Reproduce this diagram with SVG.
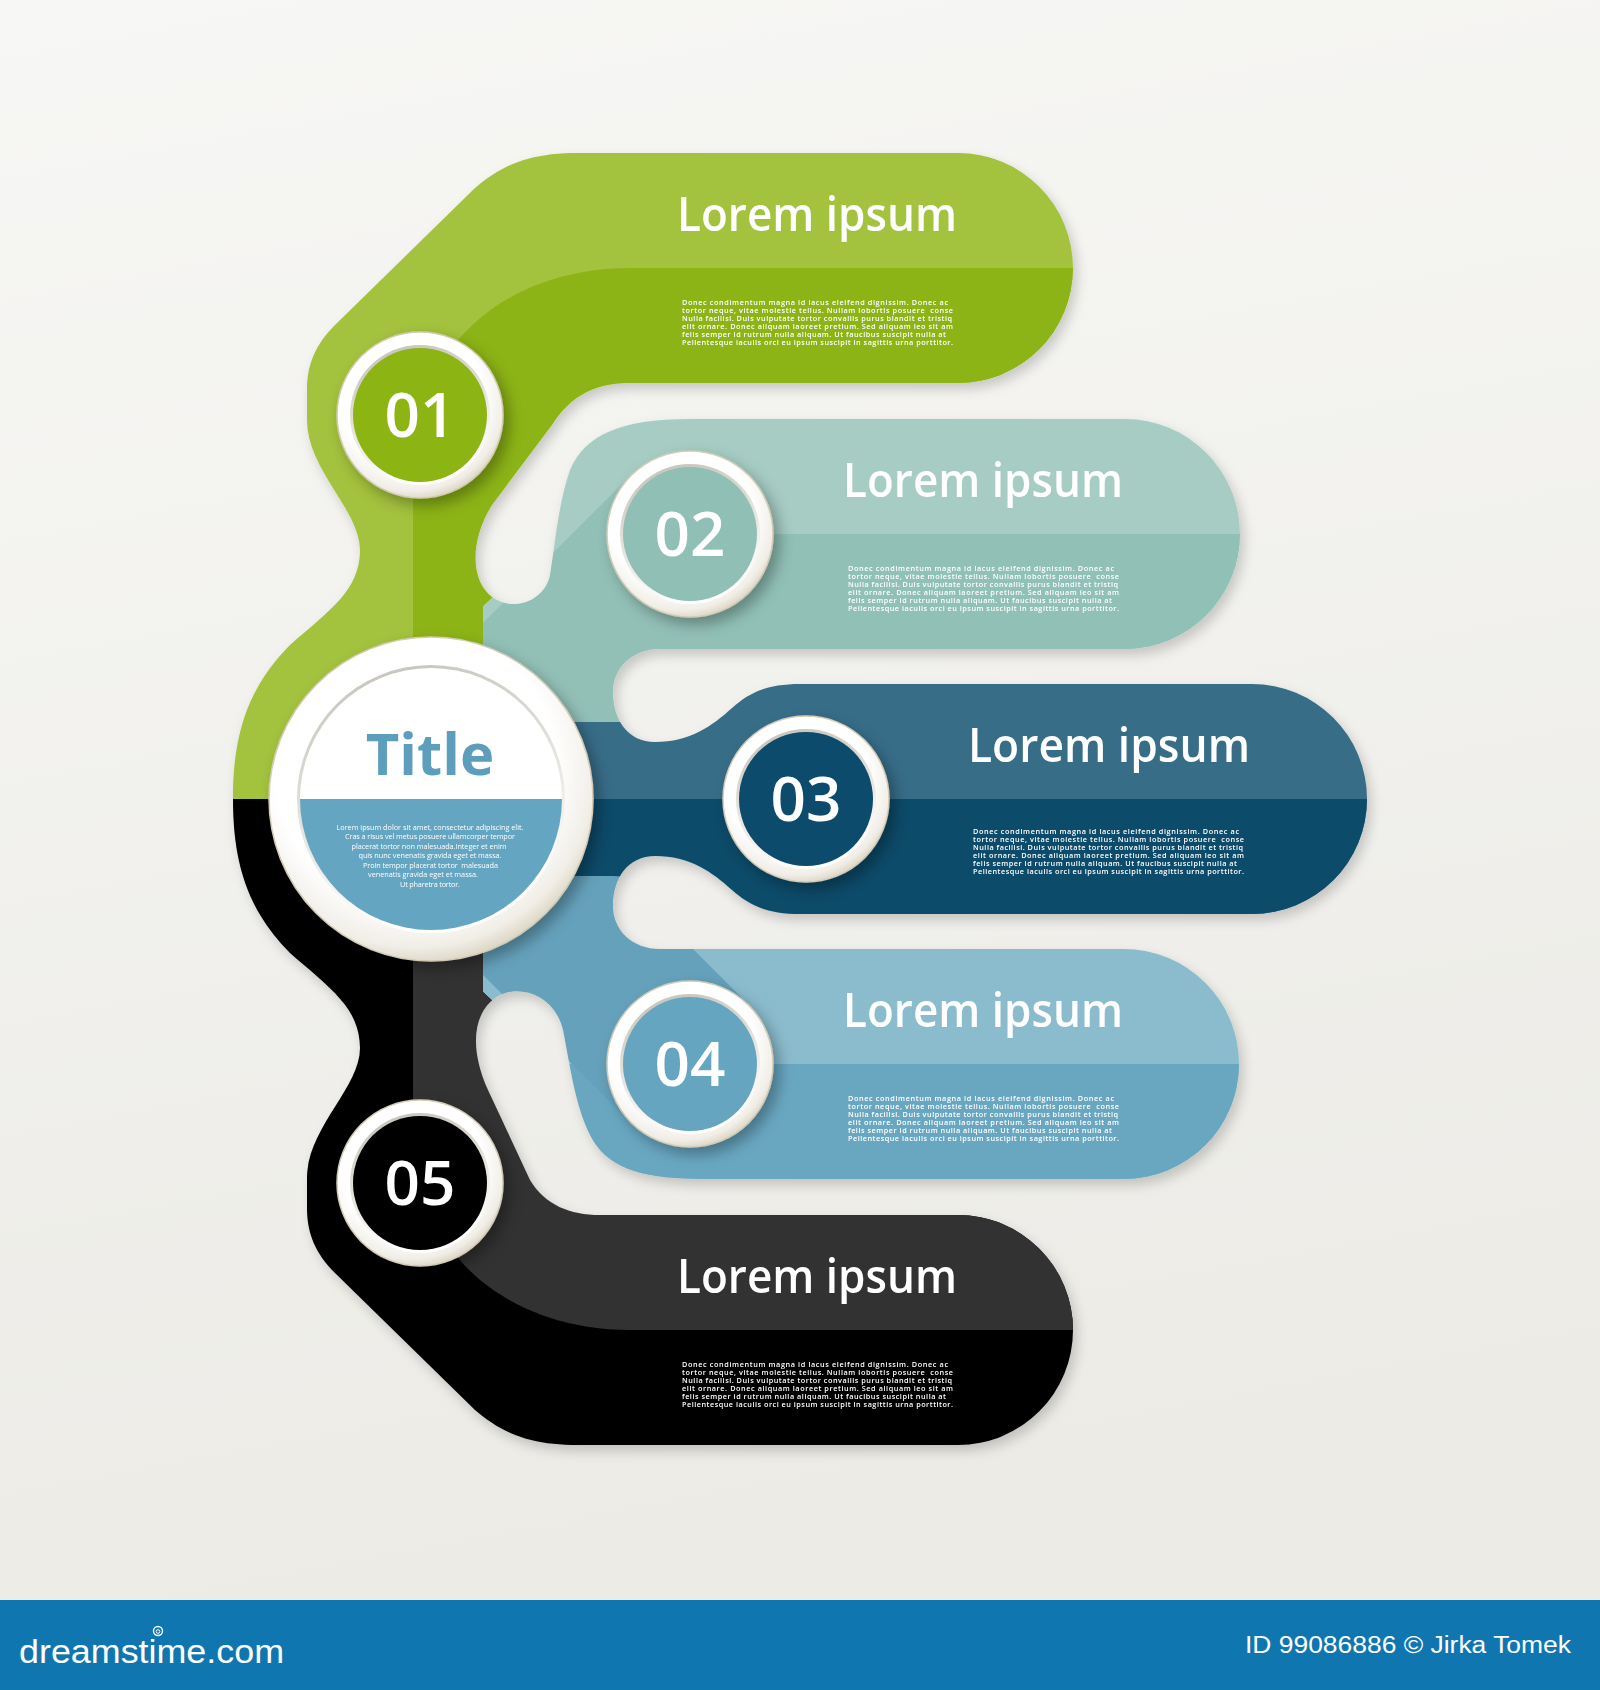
<svg xmlns="http://www.w3.org/2000/svg" xmlns:xlink="http://www.w3.org/1999/xlink" width="1600" height="1690" viewBox="0 0 1600 1690">
<defs>
<style>
.h{font-family:"Open Sans","Liberation Sans",sans-serif;font-weight:600;font-size:47px;fill:#ffffff}
.b{font-family:"Open Sans","Liberation Sans",sans-serif;font-weight:600;font-size:7.3px;fill:#ffffff;white-space:pre}
.n{font-family:"Open Sans","Liberation Sans",sans-serif;font-weight:600;font-size:62px;fill:#ffffff;text-anchor:middle}
.tb{font-family:"Open Sans","Liberation Sans",sans-serif;font-weight:400;font-size:7.3px;fill:#ffffff;text-anchor:middle;white-space:pre}
.ring{fill:url(#ring);stroke:#d3cbb6;stroke-width:1.5}
.rim{fill:url(#rim)}
</style>
<linearGradient id="bg" gradientUnits="userSpaceOnUse" x1="0" y1="0" x2="300" y2="1600">
<stop offset="0" stop-color="#f7f7f5"/>
<stop offset="1" stop-color="#ecebe6"/>
</linearGradient>
<radialGradient id="ring" cx="0.45" cy="0.4" r="0.62">
<stop offset="0.7" stop-color="#ffffff"/>
<stop offset="0.9" stop-color="#f1eee7"/>
<stop offset="1" stop-color="#d9d2bf"/>
</radialGradient>
<linearGradient id="rim" x1="0" y1="0" x2="0.3" y2="1">
<stop offset="0" stop-color="#c2bfb7"/>
<stop offset="0.5" stop-color="#e2dfd8"/>
<stop offset="1" stop-color="#ffffff"/>
</linearGradient>
<filter id="bandSh" filterUnits="userSpaceOnUse" x="0" y="0" width="1600" height="1690">
<feDropShadow dx="4" dy="6" stdDeviation="6" flood-color="#000000" flood-opacity="0.18"/>
</filter>
<filter id="circSh" x="-30%" y="-30%" width="170%" height="170%">
<feDropShadow dx="6" dy="7" stdDeviation="7" flood-color="#000000" flood-opacity="0.3"/>
</filter>
<path id="shT" d="M 1125 419 A 115 115 0 0 1 1125 649 H 720 V 735 H 470 V 419 Z"/>
<path id="shLB" d="M 470 863 H 720 V 949 H 1124 A 115 115 0 0 1 1124 1179 H 470 Z"/>
<path id="shN" d="M 470 722 H 613 C 680 722 720 684 790 684 H 1252 A 115 115 0 0 1 1252 914 H 790 C 720 914 680 876 613 876 H 470 Z"/>
<path id="shG" d="M 958 153 A 115 115 0 0 1 958 383 H 640 L 555 450 L 520 520 L 500 590 L 483 606 V 799 H 233 C 233 740 245 690 290 645 C 330 610 360 590 360 550 C 360 510 307 470 307 420 L 307 390 C 307 365 315 345 335 325 L 475 188 C 505 162 535 153 578 153 Z"/>
<path id="shB" d="M 958 1445 A 115 115 0 0 0 958 1215 H 640 L 555 1148 L 520 1078 L 500 1008 L 483 992 V 799 H 233 C 233 858 245 908 290 953 C 330 988 360 1008 360 1048 C 360 1088 307 1128 307 1178 L 307 1208 C 307 1233 315 1253 335 1273 L 475 1410 C 505 1436 535 1445 578 1445 Z"/>
<clipPath id="cT"><use xlink:href="#shT"/></clipPath>
<clipPath id="cLB"><use xlink:href="#shLB"/></clipPath>
<clipPath id="cN"><use xlink:href="#shN"/></clipPath>
<clipPath id="cG"><use xlink:href="#shG"/></clipPath>
<clipPath id="cB"><use xlink:href="#shB"/></clipPath>
<clipPath id="cTitle"><circle cx="431" cy="799" r="131"/></clipPath>
<mask id="gaps" maskUnits="userSpaceOnUse" x="0" y="0" width="1600" height="1690">
<rect x="0" y="0" width="1600" height="1690" fill="#ffffff"/>
<path fill="#000000" d="M 1100 383 H 630 C 590 383 568 400 552 425 L 492 505 C 470 540 470 580 492 597 C 515 613 545 600 550 575 C 555 545 558 505 570 470 C 585 435 620 419 690 419 H 1100 Z"/>
<path fill="#000000" d="M 1400 649 H 660 C 632 649 613 668 613 692 C 613 720 628 742 655 742 C 690 742 712 726 732 708 C 750 692 768 684 800 684 H 1400 Z"/>
<path fill="#000000" d="M 1400 949 H 660 C 632 949 613 930 613 906 C 613 878 628 856 655 856 C 690 856 712 872 732 890 C 750 906 768 914 800 914 H 1400 Z"/>
<path fill="#000000" d="M 1100 1215 H 600 C 570 1215 545 1205 530 1180 L 488 1090 C 470 1050 472 1015 495 998 C 518 982 555 995 563 1030 C 570 1065 575 1105 590 1135 C 605 1165 635 1179 700 1179 H 1100 Z"/>
</mask>
</defs>

<rect x="0" y="0" width="1600" height="1690" fill="url(#bg)"/>

<g id="connectors" filter="url(#bandSh)">
<g mask="url(#gaps)">
<g id="ribbon-02">
<use xlink:href="#shT" fill="#a6ccc4"/>
<g clip-path="url(#cT)">
<rect x="660" y="534" width="700" height="115" fill="#90c0b6"/>
<polygon points="631,475 749,593 466,876 348,758" fill="#92bfb6"/>
</g>
</g>
<g id="ribbon-04">
<use xlink:href="#shLB" fill="#8bbccd"/>
<g clip-path="url(#cLB)">
<rect x="540" y="1064" width="820" height="115" fill="#69a7c1"/>
<polygon points="631,1123 749,1005 466,722 348,840" fill="#65a1bb"/>
</g>
</g>
<g id="ribbon-03">
<use xlink:href="#shN" fill="#386d88"/>
<g clip-path="url(#cN)">
<rect x="400" y="799" width="1100" height="130" fill="#0c4b6b"/>
</g>
</g>
<g id="ribbon-01">
<use xlink:href="#shG" fill="#a3c23c"/>
<g clip-path="url(#cG)">
<path d="M 1200 268 H 630 C 530 268 450 320 425 400 C 415 430 413 460 413 500 V 800 H 1200 Z" fill="#8cb412"/>
</g>
</g>
<g id="ribbon-05">
<use xlink:href="#shB" fill="#050505"/>
<g clip-path="url(#cB)">
<path d="M 1200 1330 H 630 C 530 1330 450 1278 425 1198 C 415 1168 413 1138 413 1098 V 798 H 1200 Z" fill="#333333"/>
</g>
</g>
</g>
</g>

<g id="node-title">
<circle class="ring" cx="431" cy="799" r="162" filter="url(#circSh)"/>
<circle class="rim" cx="431" cy="799" r="134"/>
<g clip-path="url(#cTitle)">
<rect x="290" y="660" width="282" height="139" fill="#ffffff"/>
<rect x="290" y="799" width="282" height="140" fill="#64a5c2"/>
</g>
<text x="430" y="775" text-anchor="middle" font-family="'Open Sans','Liberation Sans',sans-serif" font-weight="700" font-size="58" fill="#5d9ebd">Title</text>
<text class="tb" x="430" y="829.5" textLength="187">Lorem ipsum dolor sit amet, consectetur adipiscing elit.</text>
<text class="tb" x="430" y="839" textLength="170">Cras a risus vel metus posuere ullamcorper tempor</text>
<text class="tb" x="429" y="848.5" textLength="155">placerat tortor non malesuada.Integer et enim</text>
<text class="tb" x="430" y="858" textLength="143">quis nunc venenatis gravida eget et massa.</text>
<text class="tb" x="430.5" y="867.5" textLength="135">Proin tempor placerat tortor  malesuada</text>
<text class="tb" x="423" y="877" textLength="110">venenatis gravida eget et massa.</text>
<text class="tb" x="430" y="886.5" textLength="60">Ut pharetra tortor.</text>
</g>

<g id="node-01">
<circle class="ring" cx="420" cy="415" r="83" filter="url(#circSh)"/>
<circle class="rim" cx="420" cy="415" r="70"/>
<circle cx="420" cy="415" r="67" fill="#8cb412"/>
<text class="n" x="420" y="437">01</text>
<text class="h" x="677" y="231" textLength="280" lengthAdjust="spacingAndGlyphs">Lorem ipsum</text>
<g transform="translate(682,305)">
<text class="b" x="0" y="0" textLength="266">Donec condimentum magna id lacus eleifend dignissim. Donec ac</text>
<text class="b" x="0" y="7.9" textLength="271">tortor neque, vitae molestie tellus. Nullam lobortis posuere  conse</text>
<text class="b" x="0" y="15.8" textLength="270">Nulla facilisi. Duis vulputate tortor convallis purus blandit et tristiq</text>
<text class="b" x="0" y="23.7" textLength="271">elit ornare. Donec aliquam laoreet pretium. Sed aliquam leo sit am</text>
<text class="b" x="0" y="31.6" textLength="264">felis semper id rutrum nulla aliquam. Ut faucibus suscipit nulla at</text>
<text class="b" x="0" y="39.5" textLength="271">Pellentesque iaculis orci eu ipsum suscipit in sagittis urna porttitor.</text>
</g>
</g>

<g id="node-02">
<circle class="ring" cx="690" cy="534" r="83" filter="url(#circSh)"/>
<circle class="rim" cx="690" cy="534" r="70"/>
<circle cx="690" cy="534" r="67" fill="#8fbfb5"/>
<text class="n" x="690" y="556">02</text>
<text class="h" x="843" y="497" textLength="280" lengthAdjust="spacingAndGlyphs">Lorem ipsum</text>
<g transform="translate(848,571)">
<text class="b" x="0" y="0" textLength="266">Donec condimentum magna id lacus eleifend dignissim. Donec ac</text>
<text class="b" x="0" y="7.9" textLength="271">tortor neque, vitae molestie tellus. Nullam lobortis posuere  conse</text>
<text class="b" x="0" y="15.8" textLength="270">Nulla facilisi. Duis vulputate tortor convallis purus blandit et tristiq</text>
<text class="b" x="0" y="23.7" textLength="271">elit ornare. Donec aliquam laoreet pretium. Sed aliquam leo sit am</text>
<text class="b" x="0" y="31.6" textLength="264">felis semper id rutrum nulla aliquam. Ut faucibus suscipit nulla at</text>
<text class="b" x="0" y="39.5" textLength="271">Pellentesque iaculis orci eu ipsum suscipit in sagittis urna porttitor.</text>
</g>
</g>

<g id="node-03">
<circle class="ring" cx="806" cy="799" r="83" filter="url(#circSh)"/>
<circle class="rim" cx="806" cy="799" r="70"/>
<circle cx="806" cy="799" r="67" fill="#0c4b6b"/>
<text class="n" x="806" y="821">03</text>
<text class="h" x="968" y="762" textLength="282" lengthAdjust="spacingAndGlyphs">Lorem ipsum</text>
<g transform="translate(973,834)">
<text class="b" x="0" y="0" textLength="266">Donec condimentum magna id lacus eleifend dignissim. Donec ac</text>
<text class="b" x="0" y="7.9" textLength="271">tortor neque, vitae molestie tellus. Nullam lobortis posuere  conse</text>
<text class="b" x="0" y="15.8" textLength="270">Nulla facilisi. Duis vulputate tortor convallis purus blandit et tristiq</text>
<text class="b" x="0" y="23.7" textLength="271">elit ornare. Donec aliquam laoreet pretium. Sed aliquam leo sit am</text>
<text class="b" x="0" y="31.6" textLength="264">felis semper id rutrum nulla aliquam. Ut faucibus suscipit nulla at</text>
<text class="b" x="0" y="39.5" textLength="271">Pellentesque iaculis orci eu ipsum suscipit in sagittis urna porttitor.</text>
</g>
</g>

<g id="node-04">
<circle class="ring" cx="690" cy="1064" r="83" filter="url(#circSh)"/>
<circle class="rim" cx="690" cy="1064" r="70"/>
<circle cx="690" cy="1064" r="67" fill="#66a5bf"/>
<text class="n" x="690" y="1086">04</text>
<text class="h" x="843" y="1027" textLength="280" lengthAdjust="spacingAndGlyphs">Lorem ipsum</text>
<g transform="translate(848,1101)">
<text class="b" x="0" y="0" textLength="266">Donec condimentum magna id lacus eleifend dignissim. Donec ac</text>
<text class="b" x="0" y="7.9" textLength="271">tortor neque, vitae molestie tellus. Nullam lobortis posuere  conse</text>
<text class="b" x="0" y="15.8" textLength="270">Nulla facilisi. Duis vulputate tortor convallis purus blandit et tristiq</text>
<text class="b" x="0" y="23.7" textLength="271">elit ornare. Donec aliquam laoreet pretium. Sed aliquam leo sit am</text>
<text class="b" x="0" y="31.6" textLength="264">felis semper id rutrum nulla aliquam. Ut faucibus suscipit nulla at</text>
<text class="b" x="0" y="39.5" textLength="271">Pellentesque iaculis orci eu ipsum suscipit in sagittis urna porttitor.</text>
</g>
</g>

<g id="node-05">
<circle class="ring" cx="420" cy="1183" r="83" filter="url(#circSh)"/>
<circle class="rim" cx="420" cy="1183" r="70"/>
<circle cx="420" cy="1183" r="67" fill="#000000"/>
<text class="n" x="420" y="1205">05</text>
<text class="h" x="677" y="1293" textLength="280" lengthAdjust="spacingAndGlyphs">Lorem ipsum</text>
<g transform="translate(682,1367)">
<text class="b" x="0" y="0" textLength="266">Donec condimentum magna id lacus eleifend dignissim. Donec ac</text>
<text class="b" x="0" y="7.9" textLength="271">tortor neque, vitae molestie tellus. Nullam lobortis posuere  conse</text>
<text class="b" x="0" y="15.8" textLength="270">Nulla facilisi. Duis vulputate tortor convallis purus blandit et tristiq</text>
<text class="b" x="0" y="23.7" textLength="271">elit ornare. Donec aliquam laoreet pretium. Sed aliquam leo sit am</text>
<text class="b" x="0" y="31.6" textLength="264">felis semper id rutrum nulla aliquam. Ut faucibus suscipit nulla at</text>
<text class="b" x="0" y="39.5" textLength="271">Pellentesque iaculis orci eu ipsum suscipit in sagittis urna porttitor.</text>
</g>
</g>

<g id="footer">
<rect x="0" y="1600" width="1600" height="90" fill="#1076af"/>
<circle cx="158" cy="1631" r="4.5" fill="none" stroke="#ffffff" stroke-width="1.4"/>
<circle cx="158" cy="1631.5" r="1.8" fill="none" stroke="#ffffff" stroke-width="1"/>
<text x="19" y="1663" font-family="'Liberation Sans',sans-serif" font-size="34" fill="#ffffff" textLength="265" lengthAdjust="spacingAndGlyphs">dreamstime.com</text>
<text x="1245" y="1653" font-family="'Liberation Sans',sans-serif" font-size="23" fill="#ffffff" textLength="326" lengthAdjust="spacingAndGlyphs">ID 99086886 © Jirka Tomek</text>
</g>
</svg>
